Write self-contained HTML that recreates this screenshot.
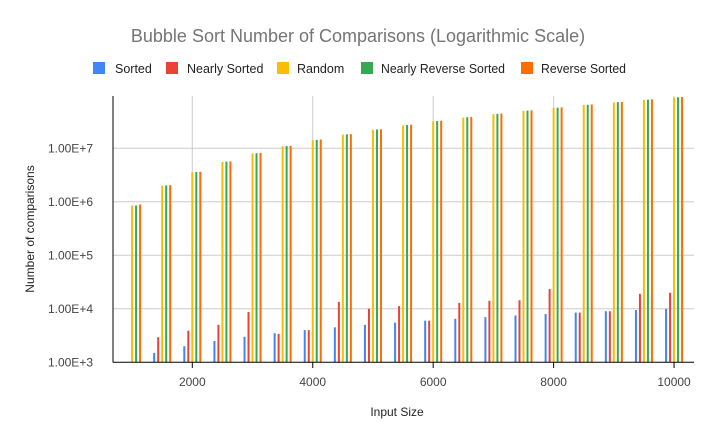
<!DOCTYPE html><html><head><meta charset="utf-8"><style>body{margin:0;background:#fff}svg{display:block;font-family:"Liberation Sans",Arial,sans-serif}</style></head><body>
<svg id="c" width="717" height="443" xmlns="http://www.w3.org/2000/svg">
<rect width="717" height="443" fill="#fff"/>
<text x="358" y="42" text-anchor="middle" font-size="18" fill="#757575">Bubble Sort Number of Comparisons (Logarithmic Scale)</text>
<g font-size="12.5" fill="#222">
<rect x="93" y="62" width="12" height="12" fill="#4285f4"/><text x="115" y="73">Sorted</text>
<rect x="166" y="62" width="12" height="12" fill="#ea4335"/><text x="187" y="73">Nearly Sorted</text>
<rect x="277" y="62" width="12" height="12" fill="#fbbc04"/><text x="297" y="73">Random</text>
<rect x="361" y="62" width="12" height="12" fill="#34a853"/><text x="381" y="73" textLength="124" lengthAdjust="spacingAndGlyphs">Nearly Reverse Sorted</text>
<rect x="521" y="62" width="12" height="12" fill="#ff6d01"/><text x="541" y="73" textLength="85" lengthAdjust="spacingAndGlyphs">Reverse Sorted</text>
</g>
<text x="397" y="416" text-anchor="middle" font-size="12" fill="#222">Input Size</text>
<text transform="translate(34,229) rotate(-90)" text-anchor="middle" font-size="12" fill="#222">Number of comparisons</text>
<g id="g"></g>
</svg>
<script>
var g=document.getElementById('g'),s='';
function Y(l){return 362.3-(l-3)*53.5}
function X(v){return 192.3+(v-2000)*0.06022}
for(var d=4;d<=7;d++){var y=Y(d);s+='<line x1="113" x2="694" y1="'+y+'" y2="'+y+'" stroke="#ccc"/>';
s+='<text x="93" y="'+(y+4)+'" text-anchor="end" font-size="12" fill="#444">1.00E+'+d+'</text>';}
s+='<text x="93" y="'+(Y(3)+4)+'" text-anchor="end" font-size="12" fill="#444">1.00E+3</text>';
for(var v=2000;v<=10000;v+=2000){var x=X(v);s+='<line x1="'+x+'" x2="'+x+'" y1="96" y2="362" stroke="#ccc"/>';
s+='<line x1="'+x+'" x2="'+x+'" y1="362" y2="368" stroke="#000"/>';
s+='<text x="'+x+'" y="386" text-anchor="middle" font-size="12" fill="#444">'+v+'</text>';}
var ns={1500:3.47,2000:3.59,2500:3.70,3000:3.94,3500:3.53,4000:3.61,4500:4.13,5000:4.0,5500:4.05,6000:3.78,6500:4.11,7000:4.15,7500:4.16,8000:4.37,8500:3.92,9000:3.94,9500:4.28,10000:4.3};
var cols=['#4285f4','#ea4335','#fbbc04','#34a853','#ff6d01'];
for(var n=1000;n<=10000;n+=500){var c=X(n);var big=Math.log10(0.9*n*n);
var vals=[Math.log10(n-1),ns[n]||3,big-0.005,big,big+0.005];
if(n==1000){vals[2]=5.93;vals[3]=5.93;vals[4]=5.95;}
var bl=Math.log10(n-1);if([4000,6000,8500,9000].indexOf(n)>=0)vals[1]=bl;
for(var i=0;i<5;i++){if(vals[i]<=3.001)continue;var y=Y(vals[i]);var x=c+(i-2)*4-1;
s+='<rect x="'+x+'" y="'+y+'" width="2" height="'+(362.3-y)+'" fill="'+cols[i]+'"/>';}}
s+='<line x1="113" x2="113" y1="96" y2="362.5" stroke="#000"/>';
s+='<line x1="113" x2="694" y1="362.3" y2="362.3" stroke="#000"/>';
g.innerHTML=s;
</script>
</body></html>
